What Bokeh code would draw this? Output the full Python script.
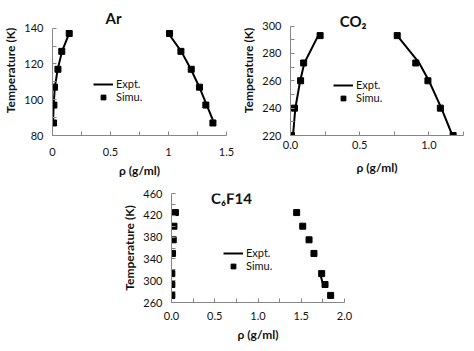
from bokeh.plotting import figure
from bokeh.models import (Range1d, FixedTicker, NumeralTickFormatter, Legend, LegendItem,
                          Label, Spacer)
from bokeh.layouts import column, row
from bokeh.embed import file_html
from bokeh.resources import INLINE

# ---------------- data ----------------
# Ar
ar_T = [87, 97, 107, 117, 127, 137]
ar_sim_vap = [0.009, 0.012, 0.017, 0.047, 0.080, 0.144]
ar_sim_liq = [1.383, 1.322, 1.267, 1.196, 1.107, 1.009]
ar_exp_T = [87, 97, 107, 117, 127, 137]
ar_exp_vap = [0.005, 0.010, 0.020, 0.045, 0.082, 0.144]
ar_exp_liq = [1.392, 1.330, 1.266, 1.193, 1.110, 1.000]

# CO2
co2_T = [220, 240, 260, 273, 293]
co2_sim_vap = [0.007, 0.029, 0.073, 0.095, 0.214]
co2_sim_liq = [1.175, 1.083, 0.993, 0.905, 0.771]
co2_exp_T = [220, 240, 260, 273, 293]
co2_exp_vap = [0.018, 0.035, 0.070, 0.100, 0.200]
co2_exp_liq = [1.170, 1.090, 1.000, 0.930, 0.771]

# C6F14
c6_T = [273, 293, 313, 350, 375, 400, 425]
c6_sim_vap = [0.004, 0.004, 0.004, 0.012, 0.020, 0.028, 0.045]
c6_sim_liq = [1.840, 1.775, 1.736, 1.647, 1.590, 1.517, 1.447]
c6_exp_T = [292, 297, 303, 309, 312, 314]
c6_exp_liq = [1.770, 1.745, 1.735, 1.725, 1.722, 1.735]

FONT = "Lato"
AXIS_COLOR = "#868686"


def make_fig(w, h, xr, yr, ybounds, xticks, xminor, yticks, yminor, xfmt, borders,
             xstand, xlstand):
    l, r, t, b = borders
    p = figure(width=w, height=h, x_range=Range1d(*xr), y_range=Range1d(*yr),
               output_backend="svg", toolbar_location=None,
               min_border_left=l, min_border_right=r, min_border_top=t, min_border_bottom=b)
    p.grid.visible = False
    p.outline_line_color = None
    p.background_fill_color = "white"
    p.border_fill_color = "white"
    for ax in (p.xaxis[0], p.yaxis[0]):
        ax.axis_line_color = AXIS_COLOR
        ax.axis_line_width = 1
        ax.major_tick_line_color = AXIS_COLOR
        ax.minor_tick_line_color = AXIS_COLOR
        ax.major_tick_in = 4
        ax.major_tick_out = 0
        ax.minor_tick_in = 4
        ax.minor_tick_out = 0
        ax.major_label_text_font = FONT
        ax.major_label_text_font_size = "11px"
        ax.major_label_text_color = "#111111"
        ax.axis_label_text_font = FONT
        ax.axis_label_text_font_size = "12px"
        ax.axis_label_text_font_style = "bold"
        ax.axis_label_text_color = "#111111"
    p.yaxis.bounds = ybounds
    p.xaxis.ticker = FixedTicker(ticks=xticks, minor_ticks=xminor)
    p.yaxis.ticker = FixedTicker(ticks=yticks, minor_ticks=yminor)
    p.xaxis.formatter = NumeralTickFormatter(format=xfmt)
    p.xaxis.major_label_standoff = xstand
    p.yaxis.major_label_standoff = 9
    p.xaxis.axis_label = "ρ (g/ml)"
    p.yaxis.axis_label = "Temperature (K)"
    p.xaxis.axis_label_standoff = xlstand
    p.yaxis.axis_label_standoff = 3
    return p


def add_series(p, T, sim_vap, sim_liq, eT, exp_vap, exp_liq, legend_loc):
    rends = []
    if exp_vap is not None:
        rends.append(p.line(exp_vap, eT, line_color="black", line_width=2))
    rends.append(p.line(exp_liq, eT, line_color="black", line_width=2))
    s1 = p.scatter(sim_vap, T, marker="square", size=6, fill_color="black", line_color="black")
    p.scatter(sim_liq, T, marker="square", size=6, fill_color="black", line_color="black")
    leg = Legend(items=[LegendItem(label="Expt.", renderers=[rends[0]]),
                        LegendItem(label="Simu.", renderers=[s1])],
                 location=legend_loc, orientation="vertical",
                 background_fill_alpha=0, border_line_color=None,
                 padding=0, margin=0, spacing=-3,
                 glyph_width=20, glyph_height=12, label_height=12,
                 label_standoff=3,
                 label_text_font=FONT, label_text_font_size="11px",
                 label_text_color="#111111")
    p.add_layout(leg, "center")


def add_title(p, x, y, text):
    p.add_layout(Label(x=x, y=y, text=text, text_align="center", text_baseline="middle",
                       text_font=FONT, text_font_size="15px", text_font_style="bold",
                       text_color="#111111"))


# Ar panel: frame 52..226 x 5..139 px; 140 K at 28.3 px
ar_top = 80 + (139 - 5) / ((139 - 28.3) / 60)
p_ar = make_fig(237, 180, (0, 1.5), (80, ar_top), (80, 140),
                [0, 0.5, 1, 1.5], [0.25, 0.75, 1.25],
                [80, 100, 120, 140], [90, 110, 130], "0.[0]", (52, 11, 5, 41), 12, 4)
add_series(p_ar, ar_T, ar_sim_vap, ar_sim_liq, ar_exp_T, ar_exp_vap, ar_exp_liq, (41, 32))
add_title(p_ar, 0.526, 80 + (139 - 18) / ((139 - 28.3) / 60), "Ar")

# CO2 panel: frame 290..463 x 5..136 px; 300 K at 25.7 px
co2_top = 220 + (136 - 5) / ((136 - 25.7) / 80)
p_co2 = make_fig(237, 180, (0, 1.25), (220, co2_top), (220, 300),
                 [0, 0.5, 1.0], [0.25, 0.75, 1.25],
                 [220, 240, 260, 280, 300], [230, 250, 270, 290], "0.0", (53, 11, 5, 44), 5, 8)
add_series(p_co2, co2_T, co2_sim_vap, co2_sim_liq, co2_exp_T, co2_exp_vap, co2_exp_liq, (43, 31))
add_title(p_co2, 0.453, 220 + (136 - 21) / ((136 - 25.7) / 80), "CO₂")

# C6F14 panel
p_c6 = make_fig(260, 171, (0, 2.0), (260, 460), (260, 460),
                [0, 0.5, 1.0, 1.5, 2.0], [0.25, 0.75, 1.25, 1.75],
                [260, 300, 340, 380, 420, 460], [280, 320, 360, 400, 440], "0.0", (71, 16, 13, 49), 9, 4)
add_series(p_c6, c6_T, c6_sim_vap, c6_sim_liq, c6_exp_T, None, c6_exp_liq, (52, 30))
add_title(p_c6, 0.694, 452, "C₆F14")

layout = column(row(p_ar, p_co2), row(Spacer(width=100, height=171), p_c6))

open("out.html", "w").write(file_html(layout, INLINE))
